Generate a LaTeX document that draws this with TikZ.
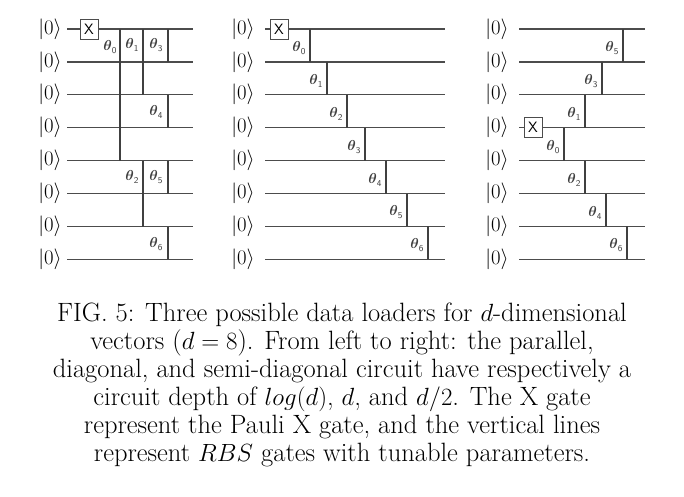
\documentclass[tikz,border=0pt]{standalone}
\usepackage{amsmath}
\begin{document}
\begin{tikzpicture}[x=1pt,y=-1pt,
  wire/.style={draw=black!70,line width=1.2pt},
  rbs/.style={draw=black!75,line width=1.8pt},
  xgate/.style={draw=black!70,fill=white,line width=0.8pt,minimum width=18pt,minimum height=20pt,inner sep=0pt,font=\sffamily\fontsize{15}{15}\selectfont},
  ket/.style={font=\fontsize{22}{22}\selectfont,inner sep=0pt},
  th/.style={font=\sffamily\fontsize{14}{14}\selectfont,text=black!75,inner sep=0pt},
  captext/.style={font=\fontsize{26.5}{28}\selectfont,align=center}]
\useasboundingbox (0,0) rectangle (684,496);
\newcommand\thl[1]{$\boldsymbol\theta$\raisebox{-3pt}{\fontsize{9}{9}\selectfont #1}}
% kets and wires
\foreach \cx/\xa/\xb in {50/67/193, 243/265/445, 497/519/645}{
  \foreach \i in {0,...,7}{
    \pgfmathsetmacro\yy{29+32.9*\i}
    \node[ket] at (\cx,\yy) {$|0\rangle$};
    \draw[wire] (\xa,\yy) -- (\xb,\yy);
  }
}
% ---- parallel ----
\draw[rbs] (120,29) -- (120,161);
\draw[rbs] (143,29) -- (143,95);
\draw[rbs] (143,161) -- (143,227);
\draw[rbs] (168,29) -- (168,62);
\draw[rbs] (168,95) -- (168,128);
\draw[rbs] (168,161) -- (168,194);
\draw[rbs] (168,227) -- (168,259);
\node[xgate] (xa) at (89,29) {X};
\node[th] at (110,47) {\thl{0}};
\node[th] at (132,45) {\thl{1}};
\node[th] at (156,45) {\thl{3}};
\node[th] at (156,112) {\thl{4}};
\node[th] at (132,177) {\thl{2}};
\node[th] at (156,177) {\thl{5}};
\node[th] at (156,244) {\thl{6}};
% ---- diagonal ----
\node[xgate] (xb) at (279,29) {X};
\foreach \i/\x in {0/310,1/327,2/347,3/365,4/386,5/407,6/428}{
  \pgfmathsetmacro\ya{29+32.9*\i}
  \pgfmathsetmacro\yb{29+32.9*(\i+1)}
  \pgfmathsetmacro\ym{29+32.9*\i+19}
  \draw[rbs] (\x,\ya) -- (\x,\yb);
  \node[th] at (\x-11,\ym) {\thl{\i}};
}
% ---- semi-diagonal ----
\node[xgate] (xc) at (533,127.7) {X};
\foreach \i/\w/\x in {5/0/623,3/1/602,1/2/585,0/3/564,2/4/585,4/5/606,6/6/627}{
  \pgfmathsetmacro\ya{29+32.9*\w}
  \pgfmathsetmacro\yb{29+32.9*(\w+1)}
  \pgfmathsetmacro\ym{29+32.9*\w+19}
  \draw[rbs] (\x,\ya) -- (\x,\yb);
  \node[th] at (\x-11,\ym) {\thl{\i}};
}
% caption
\node[captext] (caption) at (342,385) {FIG. 5: Three possible data loaders for $d$-dimensional\\
vectors ($d=8$). From left to right: the parallel,\\
diagonal, and semi-diagonal circuit have respectively a\\
circuit depth of $log(d)$, $d$, and $d/2$. The X gate\\
represent the Pauli X gate, and the vertical lines\\
represent $RBS$ gates with tunable parameters.};
\end{tikzpicture}
\end{document}
